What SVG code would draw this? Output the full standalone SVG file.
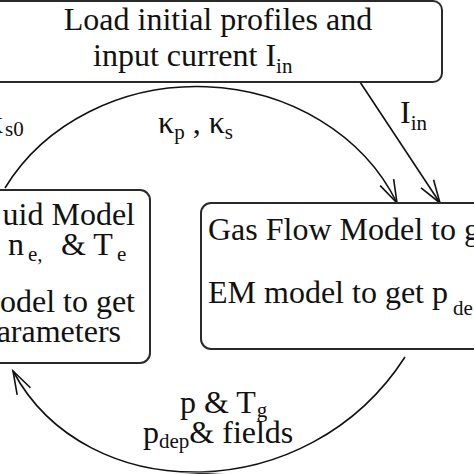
<svg xmlns="http://www.w3.org/2000/svg" width="474" height="474" viewBox="0 0 474 474" font-family="'Liberation Serif', 'Times New Roman', serif">
  <style>
    .box { fill: #ffffff; stroke: #2a2a2a; stroke-width: 2; }
    .t { font-size: 32px; fill: #111111; }
    .s { font-size: 21px; }
    .conn { fill: none; stroke: #111111; stroke-width: 1.6; }
  </style>
  <defs>
    <marker id="arr" markerUnits="userSpaceOnUse" markerWidth="30" markerHeight="20" viewBox="-26 -10 30 20" refX="0" refY="0" orient="auto">
      <path d="M-23,-7.5 L0,0 L-23,7.5" fill="none" stroke="#111111" stroke-width="1.6"/>
    </marker>
    <radialGradient id="blob" cx="0.5" cy="0.5" r="0.5">
      <stop offset="0" stop-color="#000000"/>
      <stop offset="0.6" stop-color="#333333"/>
      <stop offset="1" stop-color="#ffffff" stop-opacity="0"/>
    </radialGradient>
  </defs>
  <rect x="0" y="0" width="474" height="474" fill="#ffffff"/>

  <g id="connectors">
    <path class="conn" d="M5,188 A218,193 0 0 1 397,203" marker-end="url(#arr)"/>
    <path class="conn" d="M360,82 L440,203" marker-end="url(#arr)"/>
    <path class="conn" d="M405,357 C308,508 86,508 13,371" marker-end="url(#arr)"/>
  </g>

  <g id="node-top">
    <rect class="box" x="-10" y="1" width="452" height="81" rx="9"/>
    <text class="t" x="218" y="30" text-anchor="middle">Load initial profiles and</text>
    <text class="t" x="93" y="66">input current I<tspan class="s" dy="7">in</tspan></text>
  </g>

  <g id="node-left">
    <rect class="box" x="-10" y="190" width="160" height="173" rx="10"/>
    <text class="t" x="135" y="225" text-anchor="end">uid Model</text>
    <text class="t" x="8" y="255">n<tspan class="s" x="28" dy="6">e,</tspan><tspan x="61" dy="-6">&amp; T</tspan><tspan class="s" x="117" dy="6">e</tspan></text>
    <text class="t" x="135" y="312" text-anchor="end">odel to get</text>
    <text class="t" x="121" y="342" text-anchor="end">arameters</text>
  </g>

  <g id="node-right">
    <rect class="box" x="201" y="203" width="290" height="146" rx="10"/>
    <text class="t" x="208" y="240">Gas Flow Model to g</text>
    <text class="t" x="208" y="303">EM model to get p<tspan class="s" x="453" dy="12">de</tspan></text>
  </g>

  <g id="labels">
    <text class="t" x="3" y="133" text-anchor="end">κ</text>
    <text class="t s" x="5" y="136">s0</text>
    <text class="t" x="158" y="133">κ<tspan class="s" dy="6">p</tspan><tspan dy="-6"> , κ</tspan><tspan class="s" dy="6">s</tspan></text>
    <text class="t" x="400" y="123">I<tspan class="s" dy="7">in</tspan></text>
    <text class="t" x="180" y="413">p &amp; T<tspan class="s" dx="1" dy="4">g</tspan></text>
    <text class="t" x="143" y="443">p<tspan class="s" dy="5">dep</tspan><tspan dy="-5">&amp; fields</tspan></text>
  </g>

  <ellipse cx="203" cy="477" rx="30" ry="6" fill="url(#blob)"/>
</svg>
